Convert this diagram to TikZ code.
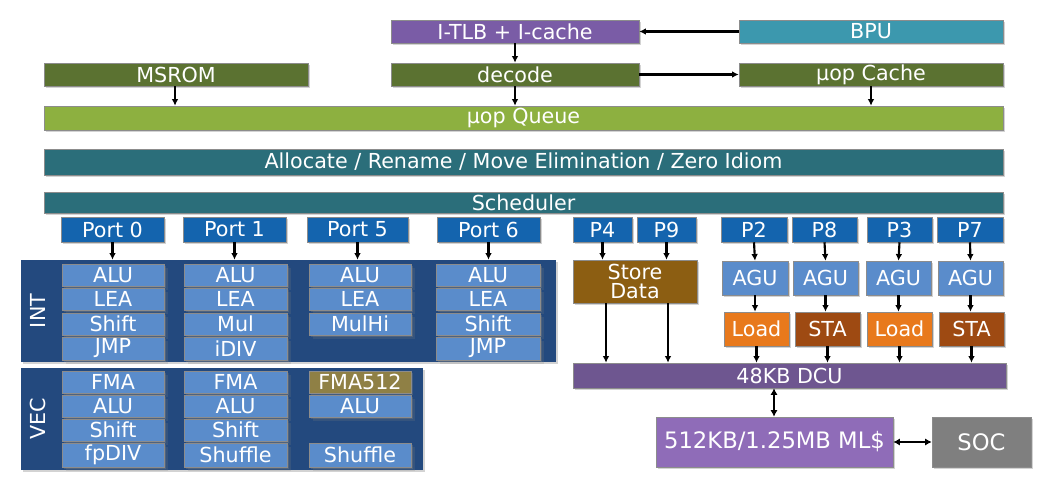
\documentclass[tikz,border=0pt]{standalone}
\usepackage{fontspec}
\setmainfont{DejaVu Sans}
\usetikzlibrary{arrows.meta,shadows}
\definecolor{cPur}{HTML}{7A5CA6}
\definecolor{cTeal}{HTML}{3C98AE}
\definecolor{cOlive}{HTML}{5B7231}
\definecolor{cLime}{HTML}{8DB040}
\definecolor{cDTeal}{HTML}{2B6E7A}
\definecolor{cPort}{HTML}{1464AE}
\definecolor{cPanel}{HTML}{23497E}
\definecolor{cUnit}{HTML}{5A8CCB}
\definecolor{cGold}{HTML}{8F8045}
\definecolor{cBrown}{HTML}{8C5E12}
\definecolor{cOrange}{HTML}{E8791C}
\definecolor{cSTA}{HTML}{9E4A12}
\definecolor{cDCU}{HTML}{6E5690}
\definecolor{cML}{HTML}{8F6CB8}
\definecolor{cSOC}{HTML}{7F7F7F}
\tikzset{
  box/.style={draw=black!45, line width=0.4pt, text=white, inner sep=0pt, align=center,
    font=\fontsize{15.5}{15}\selectfont, drop shadow={shadow xshift=1.2pt,shadow yshift=-1.2pt,opacity=0.35}},
  arr/.style={-{Latex[length=5pt,width=5pt]}, line width=1.6pt, black},
  darr/.style={{Latex[length=5pt,width=5.5pt]}-{Latex[length=5pt,width=5.5pt]}, line width=2.2pt, black},
}
% name, x1, y1, x2, y2, style, text
\newcommand\bx[7]{\node[box,#6,minimum width={(#4-#2)*0.75pt},minimum height={(#5-#3)*0.75pt}] (#1) at ({(#2+#4)/2},{(#3+#5)/2}) {#7};}
\begin{document}
\begin{tikzpicture}[x=0.75pt,y=-0.75pt]
\useasboundingbox (0,0) rectangle (1043,477);
% front end
\bx{itlb}{391}{20}{639}{43}{fill=cPur}{I-TLB + I-cache}
\bx{bpu}{739}{20}{1003}{43}{fill=cTeal}{BPU}
\bx{msrom}{44}{63}{308}{86}{fill=cOlive}{MSROM}
\bx{decode}{391}{63}{639}{86}{fill=cOlive}{decode}
\bx{uopc}{739}{63}{1003}{86}{fill=cOlive}{µop Cache}
\bx{uopq}{44}{106}{1003}{130}{fill=cLime}{µop Queue}
\bx{alloc}{44}{149}{1003}{175}{fill=cDTeal}{Allocate / Rename / Move Elimination / Zero Idiom}
\bx{sched}{44}{192}{1003}{213}{fill=cDTeal}{Scheduler}
\draw[arr] (bpu.west) -- (itlb.east);
\draw[arr] (decode.east) -- (uopc.west);
\draw[arr] (itlb.south) -- (decode.north);
\draw[arr] (msrom.south -| 175,0) -- (uopq.north -| 175,0);
\draw[arr] (decode.south) -- (uopq.north -| decode.south);
\draw[arr] (uopc.south -| 871,0) -- (uopq.north -| 871,0);
% ports
\bx{p0}{61}{217}{164}{242}{fill=cPort}{Port 0}
\bx{p1}{183}{217}{286}{242}{fill=cPort}{Port 1}
\bx{p5}{307}{217}{408}{242}{fill=cPort}{Port 5}
\bx{p6}{437}{217}{540}{242}{fill=cPort}{Port 6}
\bx{p4}{573}{217}{632}{242}{fill=cPort}{P4}
\bx{p9}{637}{217}{696}{242}{fill=cPort}{P9}
\bx{p2}{721}{217}{787}{242}{fill=cPort}{P2}
\bx{p8}{792}{217}{857}{242}{fill=cPort}{P8}
\bx{p3}{867}{217}{932}{242}{fill=cPort}{P3}
\bx{p7}{937}{217}{1003}{242}{fill=cPort}{P7}
% INT panel
\bx{intp}{21}{260}{556}{362}{fill=cPanel,draw=none}{}
\node[text=white,rotate=90,font=\fontsize{15.5}{15}\selectfont] (intl) at (38,311) {INT};
\bx{vecp}{21}{368}{423}{470}{fill=cPanel,draw=none}{}
\node[text=white,rotate=90,font=\fontsize{15.5}{15}\selectfont] (vecl) at (38,419) {VEC};
\foreach \nm/\a/\b/\c/\d/\t in {
 i0a/62/264/164/286/ALU, i0b/62/288/164/310/LEA, i0c/62/313/164/335/Shift, i0d/62/337/164/360/JMP,
 i1a/184/264/287/286/ALU, i1b/184/288/287/310/LEA, i1c/184/313/287/335/Mul, i1d/184/337/287/360/iDIV,
 i5a/309/264/411/286/ALU, i5b/309/288/411/310/LEA, i5c/309/313/411/335/MulHi,
 i6a/436/264/540/286/ALU, i6b/436/288/540/310/LEA, i6c/436/313/540/335/Shift, i6d/436/337/540/360/JMP,
 v0a/62/371/164/393/FMA, v0b/62/395/164/417/ALU, v0c/62/419/164/441/Shift, v0d/62/443/164/467/fpDIV,
 v1a/184/371/287/393/FMA, v1b/184/395/287/417/ALU, v1c/184/419/287/441/Shift, v1d/184/443/287/467/Shuffle,
 v5b/309/395/411/417/ALU, v5d/309/443/411/467/Shuffle}
 {\bx{\nm}{\a}{\b}{\c}{\d}{fill=cUnit,drop shadow={opacity=0.2}}{\t}}
\bx{v5a}{309}{371}{411}{393}{fill=cGold}{FMA512}
\foreach \p/\u in {p0/i0a,p1/i1a,p5/i5a,p6/i6a}
 \draw[arr] (\p.south) -- (\p.south |- intp.north);
% memory side
\bx{sd}{573}{260}{697}{303}{fill=cBrown}{Store\\[-1pt]Data}
\bx{a2}{722}{261}{788}{295}{fill=cUnit}{AGU}
\bx{a8}{793}{261}{858}{295}{fill=cUnit}{AGU}
\bx{a3}{866}{261}{931}{295}{fill=cUnit}{AGU}
\bx{a7}{938}{261}{1003}{295}{fill=cUnit}{AGU}
\bx{l2}{724}{312}{789}{346}{fill=cOrange}{Load}
\bx{s8}{795}{312}{860}{346}{fill=cSTA}{STA}
\bx{l3}{867}{312}{932}{346}{fill=cOrange}{Load}
\bx{s7}{939}{312}{1004}{346}{fill=cSTA}{STA}
\bx{dcu}{573}{363}{1006}{388}{fill=cDCU}{48KB DCU}
\bx{ml}{656}{417}{893}{467}{fill=cML,font=\fontsize{17}{17}\selectfont}{512KB/1.25MB ML\$}
\bx{soc}{932}{417}{1031}{467}{fill=cSOC,font=\fontsize{17}{17}\selectfont}{SOC}
\draw[arr] (p4.south) -- (p4.south |- sd.north);
\draw[arr] (p9.south) -- (p9.south |- sd.north);
\draw[arr] (sd.south -| 606,0) -- (dcu.north -| 606,0);
\draw[arr] (sd.south -| 668,0) -- (dcu.north -| 668,0);
\foreach \p/\a/\l in {p2/a2/l2,p8/a8/s8,p3/a3/l3,p7/a7/s7}{
 \draw[arr] (\p.south) -- (\a.north);
 \draw[arr] (\a.south) -- (\a.south |- \l.north);
 \draw[arr] (\l.south) -- (\l.south |- dcu.north);
}
\draw[darr] (dcu.south -| 774,0) -- (ml.north -| 774,0);
\draw[darr] (ml.east) -- (soc.west);
\end{tikzpicture}
\end{document}
